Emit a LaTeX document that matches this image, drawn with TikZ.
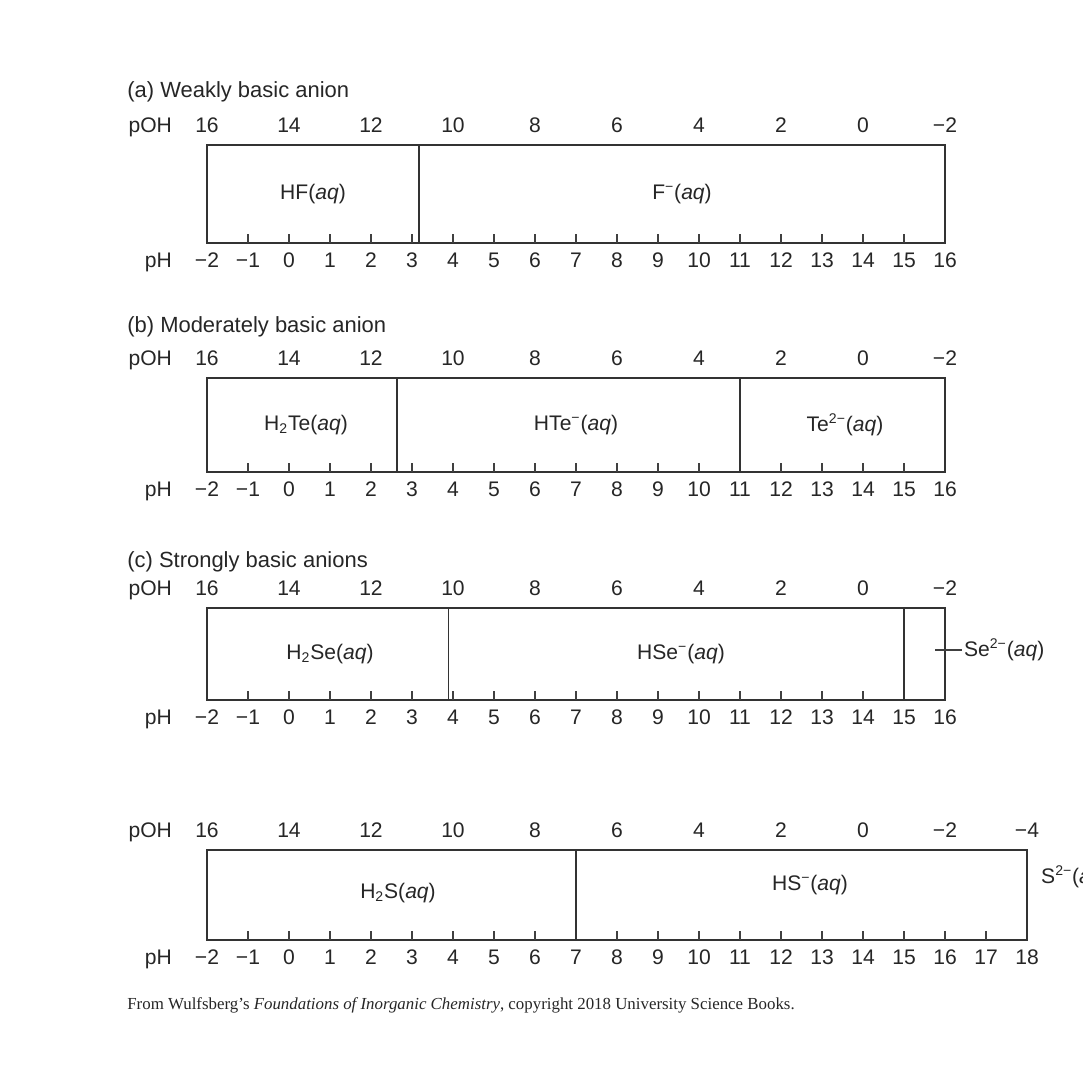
\documentclass[tikz,border=0pt]{standalone}
\usepackage{fontspec}
\setmainfont{Liberation Sans}
\newfontfamily\creditfont{Liberation Serif}
\usetikzlibrary{positioning}

% signed scale number with a real minus sign
\newcommand{\sgnum}[1]{\ifnum#1<0 −\number\numexpr0-(#1)\relax\else#1\fi}

\begin{document}
\begin{tikzpicture}[x=0.02cm,y=-0.02cm]
\tikzset{frame/.style={draw=black!80,line width=1.1pt},
         tickmark/.style={draw=black!75,line width=0.8pt},
         scalelabel/.style={font=\fontsize{12}{14}\selectfont,text=black!85,inner sep=1pt,
                            text height=1.6ex,text depth=0.4ex},
         species/.style={font=\fontsize{12}{14}\selectfont,text=black!85},
         paneltitle/.style={font=\fontsize{12.5}{15}\selectfont,text=black!85,anchor=west,inner sep=0pt}}
\useasboundingbox (0,0) rectangle (1083,1080);

\node[paneltitle] (ta) at (127,92)  {(a) Weakly basic anion};
\node[paneltitle] (tb) at (127,327) {(b) Moderately basic anion};
\node[paneltitle] (tc) at (127,562) {(c) Strongly basic anions};

% frames, ticks and both scales
\foreach \n/\T/\B/\hi in {a/145/243/16,b/378/472/16,c/608/700/16,d/850/940/18} {
  \coordinate (\n-nw) at (207,\T);
  \coordinate (\n-se) at ({207+41*(\hi+2)},\B);
  \draw[frame] (\n-nw) rectangle (\n-se);
  \pgfmathtruncatemacro\last{\hi-1}
  \foreach \p in {-1,...,\last}
    \draw[tickmark] ({207+41*(\p+2)},\B) -- ++(0,-9);
  \foreach \p in {-2,...,\hi}
    \node[scalelabel] (\n-ph\p) at ({207+41*(\p+2)},\B+19) {\sgnum{\p}};
  \foreach \p in {-2,0,...,\hi} {
    \pgfmathtruncatemacro\poh{14-\p}
    \node[scalelabel] (\n-poh\p) at ({207+41*(\p+2)},\T-18) {\sgnum{\poh}};
  }
  \node[scalelabel,anchor=east] (\n-phname) at (174,\B+19) {pH};
  \node[scalelabel,anchor=east] (\n-pohname) at (174,\T-18) {pOH};
}

% boundaries at the pKa values
\foreach \pk/\T/\B in {3.17/145/243,2.64/378/472,11/378/472,3.89/608/700,15/608/700,7/850/940}
  \draw[frame] ({207+41*(\pk+2)},\T) -- ({207+41*(\pk+2)},\B);

\node[species] (hf)   at (313,194) {HF(\textit{aq})};
\node[species] (f)    at (682,194) {F\textsuperscript{−}(\textit{aq})};
\node[species] (h2te) at (306,425) {H\textsubscript{2}Te(\textit{aq})};
\node[species] (hte)  at (576,425) {HTe\textsuperscript{−}(\textit{aq})};
\node[species] (te)   at (845,425) {Te\textsuperscript{2−}(\textit{aq})};
\node[species] (h2se) at (330,654) {H\textsubscript{2}Se(\textit{aq})};
\node[species] (hse)  at (681,654) {HSe\textsuperscript{−}(\textit{aq})};
\node[species,anchor=west,inner sep=1pt] (se) at (962,650) {Se\textsuperscript{2−}(\textit{aq})};
\coordinate (se-tip) at (935,650);
\draw[tickmark] (se-tip) -- (se.west);
\node[species] (h2s)  at (398,893) {H\textsubscript{2}S(\textit{aq})};
\node[species] (hs)   at (810,885) {HS\textsuperscript{−}(\textit{aq})};
\node[species,anchor=west] (s) at (1035,877) {S\textsuperscript{2−}(\textit{aq})};

\node[anchor=west,inner sep=0pt,text=black!85,font=\creditfont\fontsize{9.6}{11}\selectfont] (credit) at (127,1005)
  {From Wulfsberg’s \textit{Foundations of Inorganic Chemistry}, copyright 2018 University Science Books.};
\end{tikzpicture}
\end{document}
